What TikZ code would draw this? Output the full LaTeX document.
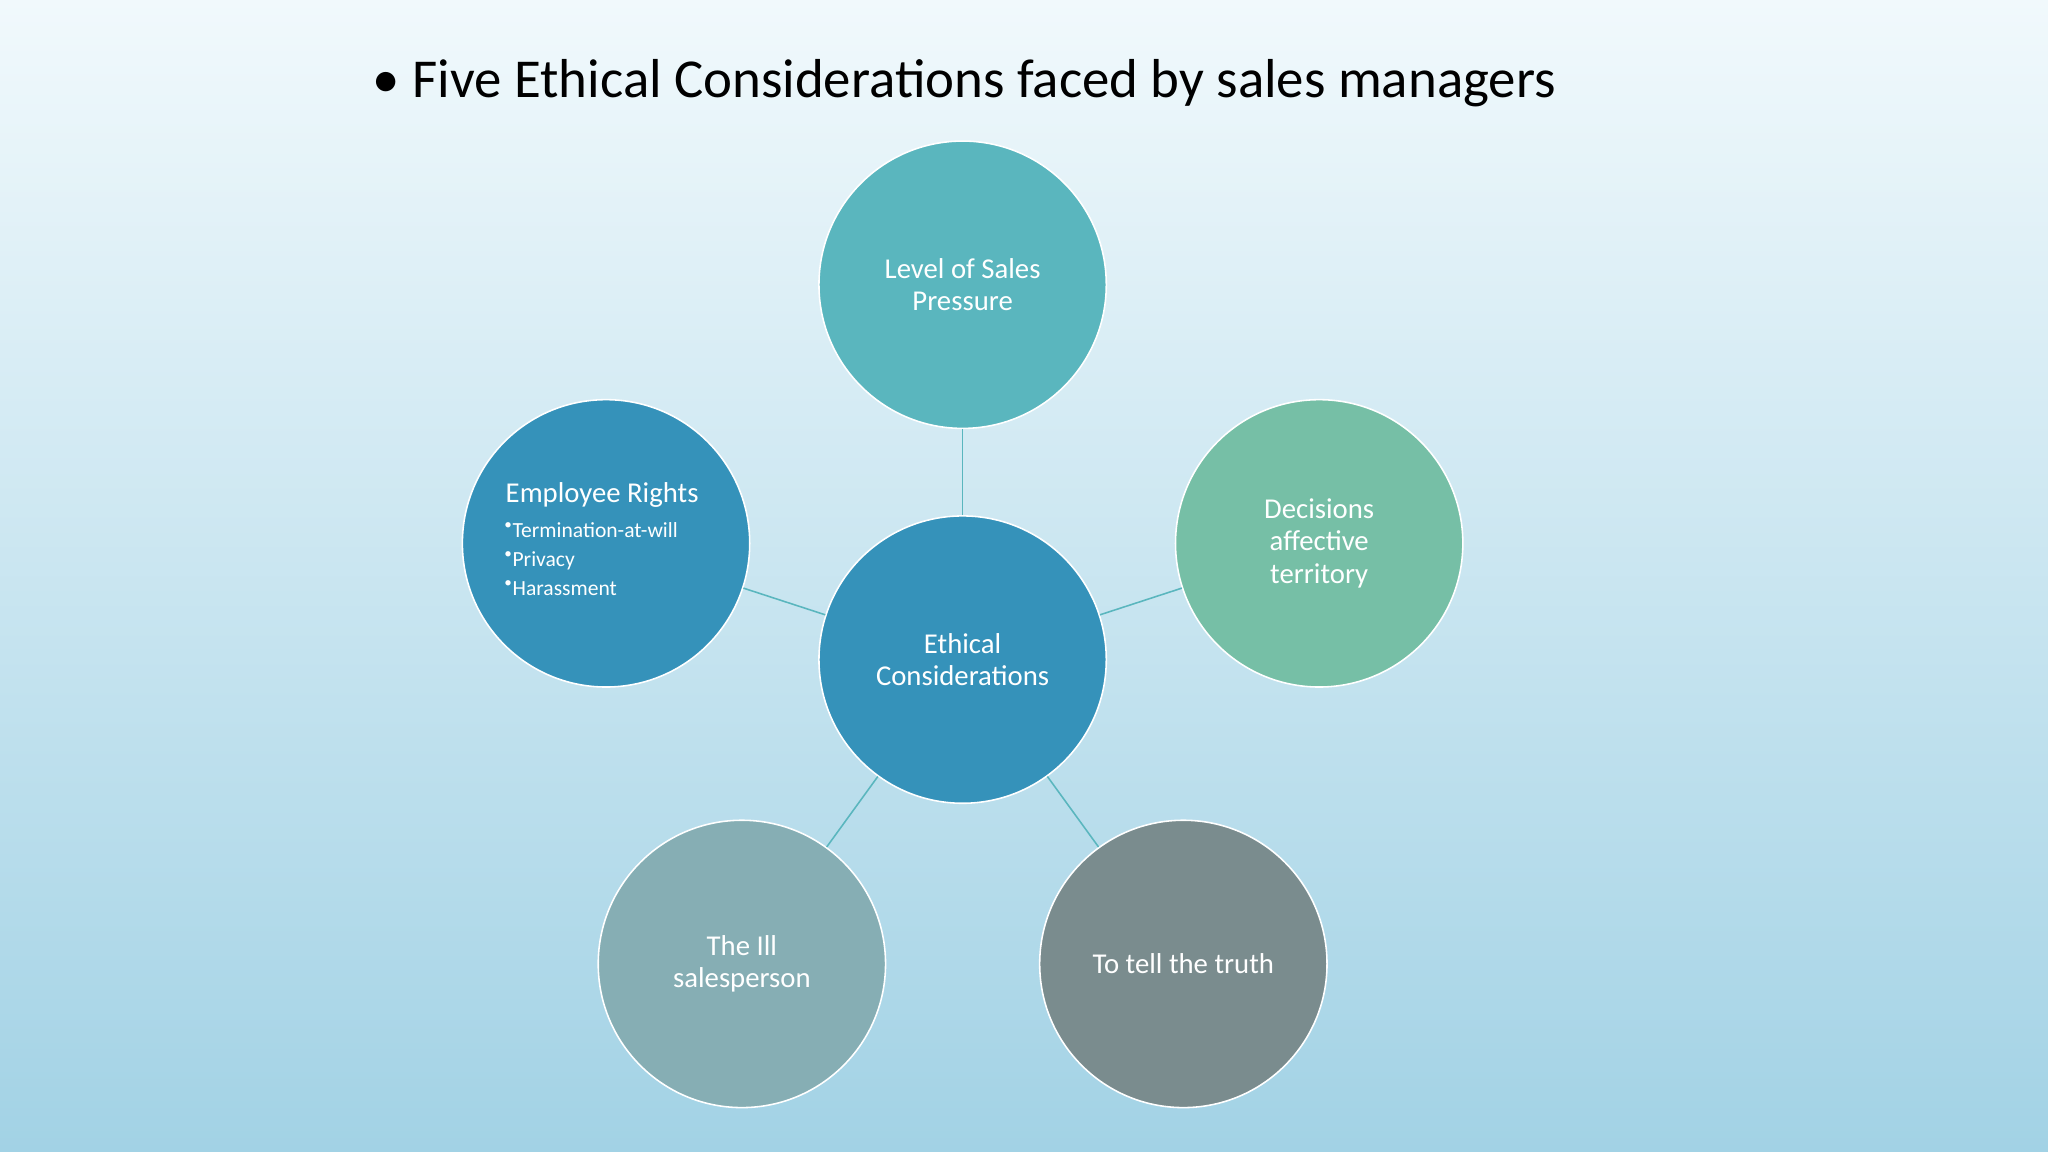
\documentclass[tikz,border=0pt]{standalone}
\usepackage{fontspec}
\setmainfont{Carlito}
\begin{document}
\begin{tikzpicture}[x=1pt,y=-1pt,
  circ/.style={circle,draw=white,line width=1.2pt,minimum size=220pt,inner sep=0pt,text=white,align=center,font=\fontsize{22}{25}\selectfont},
  conn/.style={draw=c1,line width=1.2pt}]
\definecolor{bgtop}{HTML}{F1F9FC}
\definecolor{bgbot}{HTML}{A2D2E5}
\definecolor{c1}{HTML}{5AB6BE}
\definecolor{c2}{HTML}{3592BA}
\definecolor{c3}{HTML}{76BFA6}
\definecolor{c4}{HTML}{86AEB4}
\definecolor{c5}{HTML}{7A8C8E}
\shade[top color=bgtop,bottom color=bgbot] (0,0) rectangle (1568,882);
\useasboundingbox (0,0) rectangle (1568,882);
\node[font=\fontsize{42}{48}\selectfont,anchor=west] (title) at (282,64) {\textbullet\ Five Ethical Considerations faced by sales managers};
\node[circ,fill=c2] (ctr) at (737,505) {Ethical\\Considerations};
\node[circ,fill=c1] (top) at (737,218) {Level of Sales\\Pressure};
\node[circ,fill=c2] (lft) at (464,416) {};
\node[circ,fill=c3] (rgt) at (1010,416) {Decisions\\affective\\territory};
\node[circ,fill=c4] (bl) at (568,738) {The Ill\\salesperson};
\node[circ,fill=c5] (br) at (906,738) {To tell the truth};
\node[anchor=north west,text=white,font=\fontsize{22}{25}\selectfont,inner sep=0pt] (er) at (387,369) {Employee Rights};
\node[anchor=north west,text=white,align=left,inner sep=0pt,font=\fontsize{16.5}{22}\selectfont] (bul) at (386,400)
 {\textsuperscript{\textbullet}Termination-at-will\\\textsuperscript{\textbullet}Privacy\\\textsuperscript{\textbullet}Harassment};
\foreach \n in {top,lft,rgt,bl,br} \draw[conn] (ctr) -- (\n);
\end{tikzpicture}
\end{document}
